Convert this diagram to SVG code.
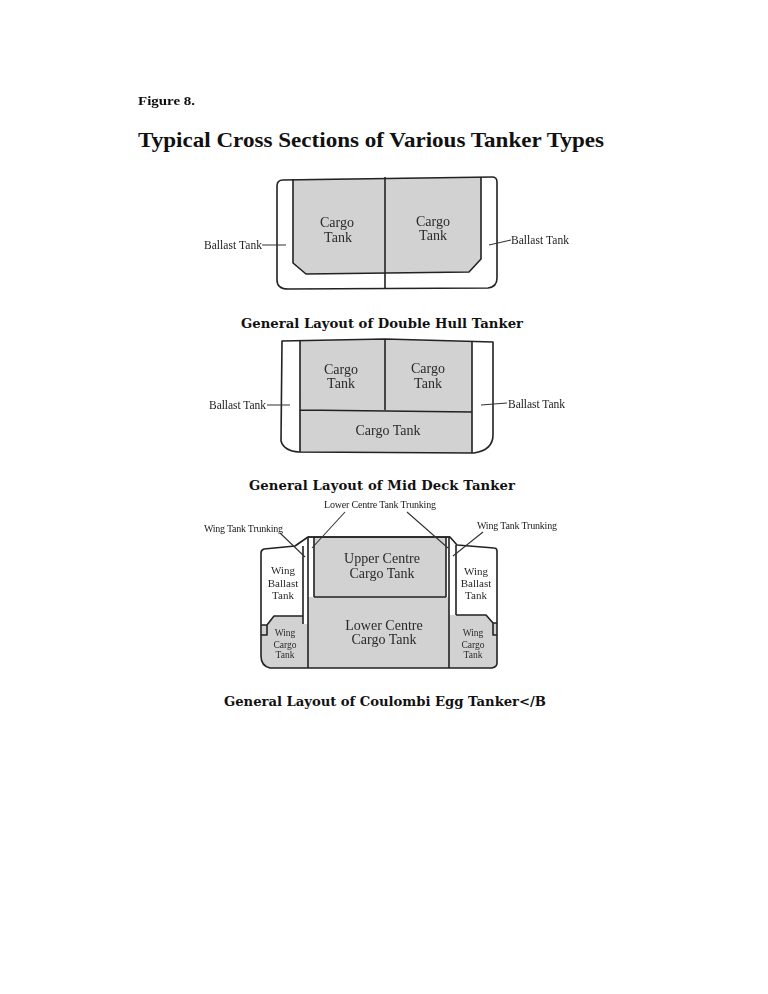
<svg xmlns="http://www.w3.org/2000/svg" width="768" height="994" viewBox="0 0 768 994">
<defs><filter id="scan" x="-5%" y="-5%" width="110%" height="110%"><feGaussianBlur stdDeviation="0.4"/></filter></defs>
<style>
.bg{fill:#ffffff}
.g{fill:#d2d2d2;stroke:none}
.l{fill:none;stroke:#222;stroke-width:1.6;stroke-linejoin:round}
.t{fill:none;stroke:#333;stroke-width:1.1}
.d{filter:url(#scan)}
.c{font-family:"Liberation Serif",serif;fill:#2a2a2a;text-anchor:middle}
.cap{font-family:"DejaVu Serif",serif;font-weight:bold;font-size:13.2px;fill:#111}
.hd{font-family:"Liberation Serif",serif;font-weight:bold;fill:#111}
.s{font-size:11.5px;fill:#222;text-anchor:start}.m{font-size:14px}.n{font-size:11px}.w{font-size:9.5px}
.lb{font-size:10px;text-anchor:start;fill:#222}
</style>
<rect class="bg" width="768" height="994"/>
<text id="fig" class="hd d" x="138" y="105" font-size="13.5" textLength="57" lengthAdjust="spacingAndGlyphs">Figure 8.</text>
<text id="title" class="hd" x="138" y="147" font-size="21.5" textLength="466" lengthAdjust="spacingAndGlyphs">Typical Cross Sections of Various Tanker Types</text>

<g id="double-hull" class="d">
<path class="g" d="M293 179L481 177V259L469 272L306 274L293 263Z"/>
<path class="l" d="M283 180L492 177Q497 177 497 182V278Q497 287 488 288L288 289Q277 289 277 280V186Q277 180 283 180Z"/>
<path class="l" d="M293 179V263L306 274L469 272L481 259V177"/>
<path class="l" d="M385 177V289"/>
<text class="c m" x="337" y="227">Cargo</text><text class="c m" x="338" y="242">Tank</text>
<text class="c m" x="433" y="226">Cargo</text><text class="c m" x="433" y="240">Tank</text>
<text class="c s" x="204" y="249" textLength="58">Ballast Tank</text>
<text class="c s" x="511" y="244" textLength="58">Ballast Tank</text>
</g>
<text id="cap1" class="cap" x="241" y="328" textLength="282">General Layout of Double Hull Tanker</text>

<g id="mid-deck" class="d">
<path class="g" d="M300 341L385 339L472 342V453H299Z"/>
<path class="l" d="M282 341L385 339L493 342V435Q493 450 474 453L299 452Q284 451 281 441Z"/>
<path class="l" d="M300 341V452M472 342V453M300 410L472 412M385 339V410"/>
<text class="c m" x="341" y="374">Cargo</text><text class="c m" x="341" y="388">Tank</text>
<text class="c m" x="428" y="373">Cargo</text><text class="c m" x="428" y="388">Tank</text>
<text class="c m" x="388" y="435">Cargo Tank</text>
<text class="c s" x="209" y="409" textLength="57">Ballast Tank</text>
<text class="c s" x="508" y="408" textLength="57">Ballast Tank</text>
</g>
<text id="cap2" class="cap" x="249" y="490" textLength="266">General Layout of Mid Deck Tanker</text>

<g id="coulombi-egg" class="d">
<path class="g" d="M314 537H446V597H449V668H308V597H314Z"/>
<path class="g" d="M261 625H267L274 616H303V624H308V668H270Q261 666 261 656Z"/>
<path class="g" d="M456 615H486L493 623H497V663Q497 667 492 668H449V615Z"/>
<path class="l" d="M308 537L295 546L264 549Q261 550 261 553V656Q261 666 270 668H492Q497 667 497 663V551Q497 548 494 548L457 545L450 537Z"/>
<path class="l" d="M308 537H450"/>
<path class="l" d="M308 537V668M449 537V668M314 537V597M446 537V597M314 597H446M303 546V624M456 545V615"/>
<path class="l" d="M261 625H267L274 616H303M261 635H267V625M456 615H486L493 623H497M493 623V635H497"/>
<text class="c m" x="382" y="563">Upper Centre</text><text class="c m" x="382" y="578">Cargo Tank</text>
<text class="c m" x="384" y="630">Lower Centre</text><text class="c m" x="384" y="644">Cargo Tank</text>
<text class="c n" x="283" y="574">Wing</text><text class="c n" x="283" y="587">Ballast</text><text class="c n" x="283" y="599">Tank</text>
<text class="c n" x="476" y="575">Wing</text><text class="c n" x="476" y="587">Ballast</text><text class="c n" x="476" y="599">Tank</text>
<text class="c w" x="285" y="636">Wing</text><text class="c w" x="285" y="648">Cargo</text><text class="c w" x="285" y="658">Tank</text>
<text class="c w" x="473" y="636">Wing</text><text class="c w" x="473" y="648">Cargo</text><text class="c w" x="473" y="658">Tank</text>
<text class="c lb" x="204" y="532" textLength="79">Wing Tank Trunking</text>
<text class="c lb" x="477" y="529" textLength="80">Wing Tank Trunking</text>
<text class="c lb" x="324" y="508" textLength="112">Lower Centre Tank Trunking</text>
</g>
<text id="cap3" class="cap" x="224" y="706" textLength="322">General Layout of Coulombi Egg Tanker&lt;/B</text>

<g id="connectors" class="d">
<path class="t" d="M262 245H286M489 245L511 240"/>
<path class="t" d="M267 405H290M481 405L507 403"/>
<path class="t" d="M280 533L305 557M345 512L312 548M407 512L448 548M483 532L453 556"/>
</g>
</svg>
